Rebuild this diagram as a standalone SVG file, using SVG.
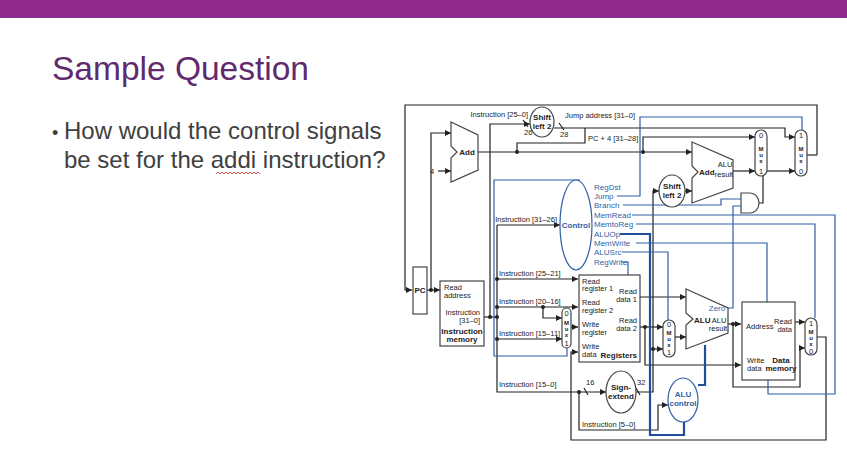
<svg xmlns="http://www.w3.org/2000/svg" width="847" height="466" viewBox="0 0 847 466">
<defs>
<marker id="a" viewBox="0 0 6 6" refX="6" refY="3" markerWidth="5" markerHeight="5" orient="auto"><path d="M0,0L6,3L0,6z" fill="#222"/></marker>
<style>
.w{fill:none;stroke:#222;stroke-width:1.2}
.b{fill:none;stroke:#2f5fa5;stroke-width:1.2}
.bb{fill:none;stroke:#1f4e9a;stroke-width:2.2}
.box{fill:#fff;stroke:#444;stroke-width:1.2}
.t{font-family:"Liberation Sans",Arial,sans-serif;font-size:7.5px;fill:#222}
.tb{font-family:"Liberation Sans",Arial,sans-serif;font-size:8px;font-weight:bold;fill:#222}
.m{font-family:"Liberation Sans",Arial,sans-serif;font-size:6px;font-weight:bold;fill:#222}
.bl{font-family:"Liberation Sans",Arial,sans-serif;font-size:8px;fill:#2f5fa5}
.d{fill:#222}
</style>
</defs>
<rect width="847" height="466" fill="#fff"/>
<rect width="847" height="18" fill="#8f2a8c"/>
<text x="52" y="80" font-family="Liberation Sans,Arial,sans-serif" font-size="33.5" fill="#5f2a6e">Sample Question</text>
<g font-family="Liberation Sans,Arial,sans-serif" font-size="24" fill="#404040">
<text x="52" y="139" font-size="18">•</text>
<text x="64" y="139">How would the control signals</text>
<text x="64" y="168">be set for the addi instruction?</text>
</g>
<path d="M216,174 l2,-2 l2,2 l2,-2 l2,2 l2,-2 l2,2 l2,-2 l2,2 l2,-2 l2,2 l2,-2 l2,2 l2,-2 l2,2 l2,-2 l2,2 l2,-2 l2,2 l2,-2 l2,2 l2,-2 l2,2" fill="none" stroke="#d02020" stroke-width="0.8"/>

<g id="connectors">
<path class="w" d="M817,155 V105 H405 V290 H412" marker-end="url(#a)"/>
<path class="w" d="M806,155 H817"/>
<path class="w" d="M427,290 H440" marker-end="url(#a)"/>
<path class="w" d="M431,290 V133 H451" marker-end="url(#a)"/>
<path class="w" d="M438,171 H451" marker-end="url(#a)"/>
<path class="w" d="M478,152 H692" marker-end="url(#a)"/>
<path class="w" d="M517,152 V143 H585 V128"/>
<path class="w" d="M643,152 V137 H755" marker-end="url(#a)"/>
<path class="w" d="M490,317 V124 H530" marker-end="url(#a)"/>
<path class="w" d="M554,128 H785 V137 H795" marker-end="url(#a)"/>
<path class="w" d="M523,120 l5,7 M559,123 l5,7"/>
<path class="w" d="M767,171 H795" marker-end="url(#a)"/>
<path class="w" d="M733,171 H755" marker-end="url(#a)"/>
<path class="w" d="M685,191 H692" marker-end="url(#a)"/>
<path class="w" d="M758,203 H763 V176"/>
<path class="w" d="M484,317 H497"/>
<path class="w" d="M497,225 V392 H606" marker-end="url(#a)"/>
<path class="w" d="M497,225 H560" marker-end="url(#a)"/>
<path class="w" d="M497,279 H578" marker-end="url(#a)"/>
<path class="w" d="M497,307 H578" marker-end="url(#a)"/>
<path class="w" d="M543,307 V318 H562" marker-end="url(#a)"/>
<path class="w" d="M497,339 H562" marker-end="url(#a)"/>
<path class="w" d="M571,327 H578" marker-end="url(#a)"/>
<path class="w" d="M640,297 H686" marker-end="url(#a)"/>
<path class="w" d="M640,327 H663" marker-end="url(#a)"/>
<path class="w" d="M645,327 V365 H741" marker-end="url(#a)"/>
<path class="w" d="M636,392 H653 V191 H659" marker-end="url(#a)"/>
<path class="w" d="M653,349 H663" marker-end="url(#a)"/>
<path class="w" d="M584,388 l4,7 M636,388 l4,7"/>
<path class="w" d="M579,392 V430 H658 V405 H668" marker-end="url(#a)"/>
<path class="w" d="M675,337 H686" marker-end="url(#a)"/>
<path class="w" d="M728,324 H741" marker-end="url(#a)"/>
<path class="w" d="M733,324 V387 H800 V348 H805" marker-end="url(#a)"/>
<path class="w" d="M795,322 H805" marker-end="url(#a)"/>
<path class="w" d="M817,337 H826 V440 H571 V352 H578" marker-end="url(#a)"/>
<path class="b" d="M728,308 H733 V206 H741"/>
<path class="b" d="M580,180 H494 V356 H567 V348"/>
<path class="b" d="M623,205 H721 V199 H741"/>
<path class="b" d="M617,196 H640 V117 H802 V130"/>
<path class="b" d="M632,215 H835 V394 H768 V380"/>
<path class="b" d="M636,224 H815 V318"/>
<path class="bb" d="M620,234 H650 V435 H684 V422"/>
<path class="b" d="M636,243 H767 V302"/>
<path class="b" d="M622,252 H668 V320"/>
<path class="b" d="M622,262 H628 V275"/>
<path class="bb" d="M698,385 H705 V345"/>
<g class="d">
<circle cx="431" cy="290" r="2"/><circle cx="517" cy="152" r="2"/><circle cx="643" cy="152" r="2"/>
<circle cx="490" cy="317" r="2"/><circle cx="497" cy="317" r="2"/><circle cx="497" cy="279" r="2"/>
<circle cx="497" cy="307" r="2"/><circle cx="497" cy="339" r="2"/><circle cx="543" cy="307" r="2"/>
<circle cx="645" cy="327" r="2"/><circle cx="653" cy="349" r="2"/><circle cx="579" cy="392" r="2"/>
<circle cx="733" cy="324" r="2"/>
</g>
</g>

<g id="pc"><rect class="box" x="413" y="267" width="14" height="47"/><text class="tb" x="420" y="293" text-anchor="middle">PC</text></g>
<g id="add4"><path class="box" d="M451,122 L478,135 L478,170 L451,182 L451,158 L457,152 L451,146 Z"/><text class="tb" x="467" y="155" text-anchor="middle">Add</text><text class="t" x="432" y="174" text-anchor="middle">4</text></g>
<g id="imem"><rect class="box" x="440" y="281" width="44" height="65"/>
<text class="t" x="444" y="290">Read</text><text class="t" x="444" y="298">address</text>
<text class="t" x="480" y="315" text-anchor="end">Instruction</text><text class="t" x="480" y="323" text-anchor="end">[31–0]</text>
<text class="tb" x="462" y="334" text-anchor="middle">Instruction</text><text class="tb" x="462" y="342" text-anchor="middle">memory</text></g>
<g id="sl2a"><ellipse class="box" cx="542" cy="122" rx="12" ry="15"/><text class="tb" x="542" y="120" text-anchor="middle">Shift</text><text class="tb" x="542" y="129" text-anchor="middle">left 2</text>
<text class="t" x="528" y="117" text-anchor="end">Instruction [25–0]</text><text class="t" x="565" y="118">Jump address [31–0]</text>
<text class="t" x="524" y="135">26</text><text class="t" x="560" y="137">28</text><text class="t" x="588" y="141">PC + 4 [31–28]</text></g>
<g id="mux1"><rect class="box" x="755" y="130" width="12" height="46" rx="6"/><text class="t" x="761" y="138" text-anchor="middle">0</text><text class="m" x="761" y="151" text-anchor="middle">M</text><text class="m" x="761" y="157" text-anchor="middle">u</text><text class="m" x="761" y="163" text-anchor="middle">x</text><text class="t" x="761" y="174" text-anchor="middle">1</text></g>
<g id="mux2"><rect class="box" x="795" y="130" width="12" height="46" rx="6"/><text class="t" x="801" y="138" text-anchor="middle">1</text><text class="m" x="801" y="151" text-anchor="middle">M</text><text class="m" x="801" y="157" text-anchor="middle">u</text><text class="m" x="801" y="163" text-anchor="middle">x</text><text class="t" x="801" y="174" text-anchor="middle">0</text></g>
<g id="addb"><path class="box" d="M692,142 L733,160 L733,188 L692,203 L692,178 L698,172 L692,166 Z"/><text class="tb" x="699" y="175">Add</text><text class="t" x="725" y="167" text-anchor="middle">ALU</text><text class="t" x="724" y="177" text-anchor="middle" font-size="7">result</text></g>
<g id="sl2b"><ellipse class="box" cx="672" cy="191" rx="13" ry="16"/><text class="tb" x="672" y="189" text-anchor="middle">Shift</text><text class="tb" x="672" y="198" text-anchor="middle">left 2</text></g>
<g id="and"><path class="box" d="M741,193 H750 A9,10 0 0 1 750,213 H741 Z"/></g>
<g id="control"><ellipse cx="576" cy="225" rx="16" ry="45" fill="#fff" stroke="#2f5fa5" stroke-width="1.2"/><text class="bl" x="576" y="228" text-anchor="middle" font-weight="bold" font-size="7.5">Control</text>
<text class="t" x="557" y="222" text-anchor="end">Instruction [31–26]</text>
<g class="bl"><text x="594" y="190">RegDst</text><text x="594" y="199">Jump</text><text x="594" y="208">Branch</text><text x="594" y="218">MemRead</text><text x="594" y="227">MemtoReg</text><text x="594" y="237">ALUOp</text><text x="594" y="246">MemWrite</text><text x="594" y="255">ALUSrc</text><text x="594" y="265">RegWrite</text></g></g>
<g id="labels"><text class="t" x="499" y="276">Instruction [25–21]</text><text class="t" x="499" y="304">Instruction [20–16]</text><text class="t" x="499" y="336">Instruction [15–11]</text><text class="t" x="499" y="387">Instruction [15–0]</text><text class="t" x="582" y="427">Instruction [5–0]</text><text class="t" x="586" y="385">16</text><text class="t" x="637" y="385">32</text></g>
<g id="regmux"><rect class="box" x="562" y="308" width="9" height="40" rx="4.5"/><text class="t" x="566.5" y="316" text-anchor="middle">0</text><text class="m" x="566.5" y="325" text-anchor="middle">M</text><text class="m" x="566.5" y="331" text-anchor="middle">u</text><text class="m" x="566.5" y="337" text-anchor="middle">x</text><text class="t" x="566.5" y="346" text-anchor="middle">1</text></g>
<g id="registers"><rect class="box" x="579" y="275" width="61" height="87"/>
<text class="t" x="582" y="284">Read</text><text class="t" x="582" y="291">register 1</text><text class="t" x="582" y="305">Read</text><text class="t" x="582" y="313">register 2</text>
<text class="t" x="582" y="327">Write</text><text class="t" x="582" y="335">register</text><text class="t" x="582" y="349">Write</text><text class="t" x="582" y="357">data</text>
<text class="t" x="637" y="294" text-anchor="end">Read</text><text class="t" x="637" y="302" text-anchor="end">data 1</text><text class="t" x="637" y="323" text-anchor="end">Read</text><text class="t" x="637" y="331" text-anchor="end">data 2</text>
<text class="tb" x="637" y="358" text-anchor="end">Registers</text></g>
<g id="alumux"><rect class="box" x="663" y="320" width="12" height="37" rx="6"/><text class="t" x="669" y="327" text-anchor="middle">0</text><text class="m" x="669" y="335" text-anchor="middle">M</text><text class="m" x="669" y="341" text-anchor="middle">u</text><text class="m" x="669" y="347" text-anchor="middle">x</text><text class="t" x="669" y="355" text-anchor="middle">1</text></g>
<g id="signext"><ellipse class="box" cx="621" cy="392" rx="15" ry="21"/><text class="tb" x="621" y="390" text-anchor="middle">Sign-</text><text class="tb" x="621" y="399" text-anchor="middle">extend</text></g>
<g id="aluctl"><ellipse cx="683" cy="400" rx="15" ry="22" fill="#fff" stroke="#2f5fa5" stroke-width="1.2"/><text class="bl" x="683" y="397" text-anchor="middle" font-weight="bold">ALU</text><text class="bl" x="683" y="406" text-anchor="middle" font-weight="bold" font-size="7">control</text></g>
<g id="alu"><path class="box" d="M686,289 L728,308 L728,333 L686,349 L686,325 L693,319 L686,313 Z"/><text class="tb" x="694" y="323">ALU</text><text class="t" x="719" y="323" text-anchor="middle">ALU</text><text class="t" x="718" y="331" text-anchor="middle">result</text><text class="bl" x="717" y="311" text-anchor="middle">Zero</text></g>
<g id="dmem"><rect class="box" x="742" y="302" width="53" height="78"/><text class="t" x="746" y="329">Address</text><text class="t" x="792" y="324" text-anchor="end">Read</text><text class="t" x="792" y="332" text-anchor="end">data</text>
<text class="t" x="747" y="363">Write</text><text class="t" x="747" y="371">data</text><text class="tb" x="781" y="363" text-anchor="middle">Data</text><text class="tb" x="781" y="371" text-anchor="middle">memory</text></g>
<g id="mux3"><rect class="box" x="805" y="318" width="12" height="37" rx="6"/><text class="t" x="811" y="326" text-anchor="middle">1</text><text class="m" x="811" y="334" text-anchor="middle">M</text><text class="m" x="811" y="340" text-anchor="middle">u</text><text class="m" x="811" y="346" text-anchor="middle">x</text><text class="t" x="811" y="354" text-anchor="middle">0</text></g>
</svg>
